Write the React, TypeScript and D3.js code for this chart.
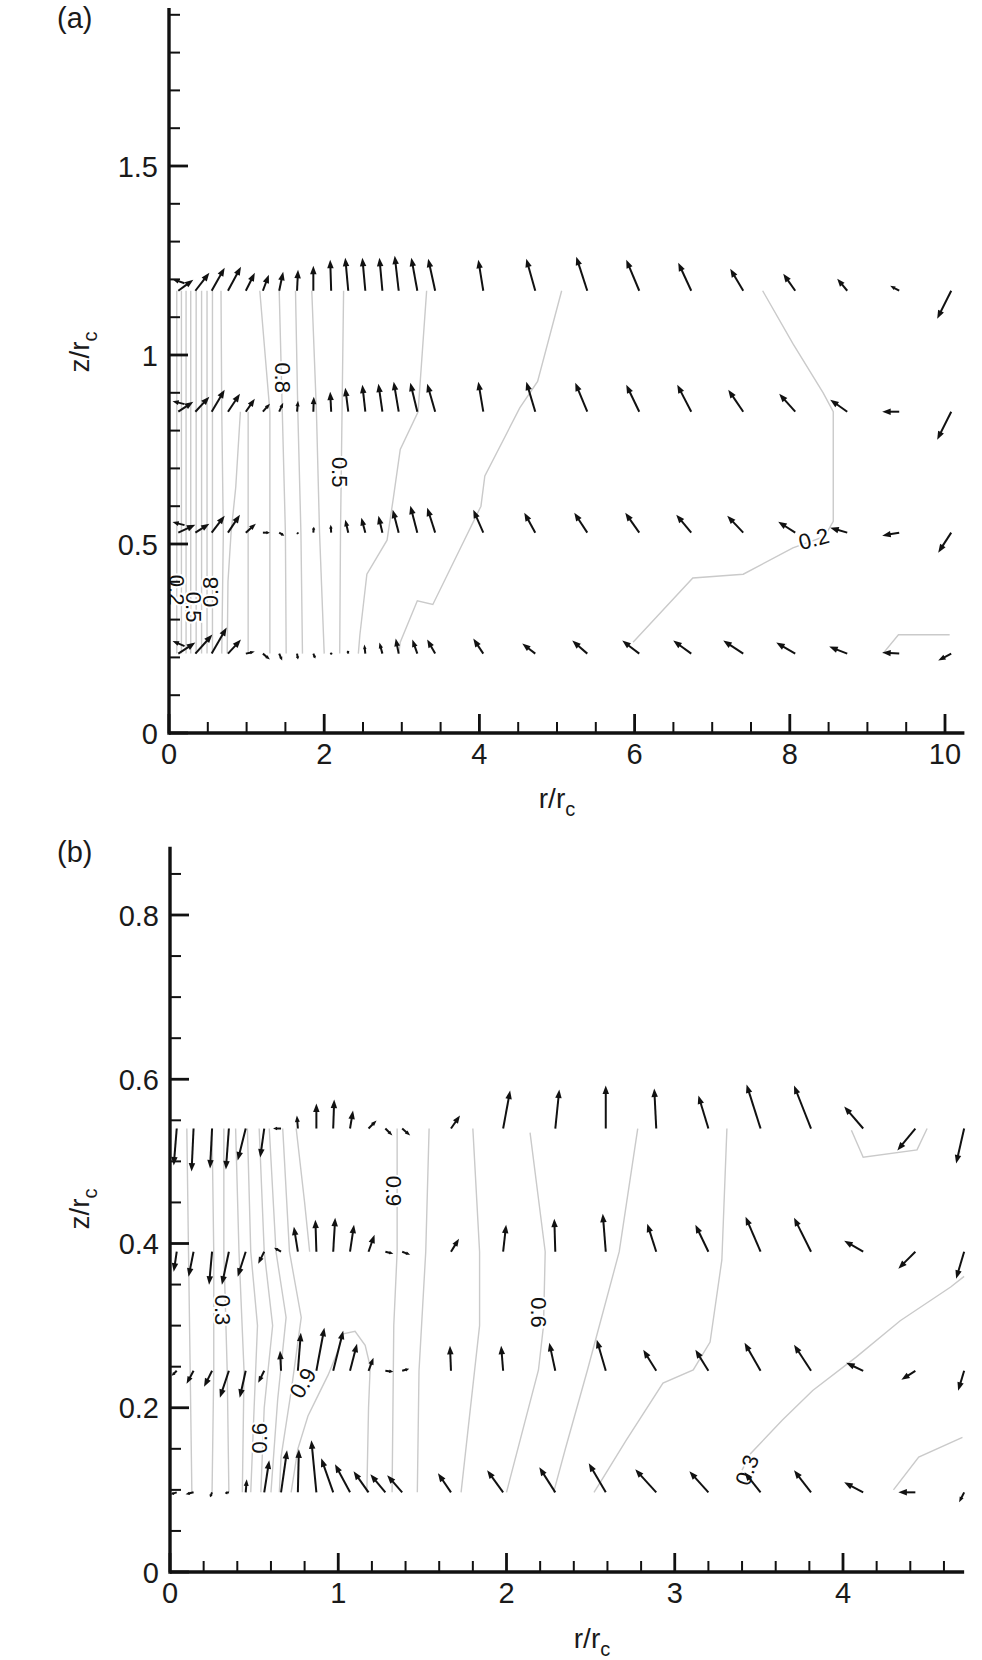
import React from "react";
import * as d3 from "d3";

const W = 982;
const H = 1660;
const FONT = "'Liberation Sans', Arial, Helvetica, sans-serif";

// ---------------- Panel (a) data ----------------
const A_COLS = [0.12, 0.34, 0.55, 0.76, 0.99, 1.21, 1.42, 1.65, 1.86, 2.09, 2.31, 2.53, 2.75, 2.96, 3.2, 3.43,
  4.05, 4.72, 5.39, 6.06, 6.73, 7.4, 8.07, 8.74, 9.41, 10.08];
const A_ROWS = [1.17, 0.85, 0.53, 0.21];
const A_U1 = [1.5, 1.4, 1.3, 1.3, 0.9, 0.6, 0.4, 0.1, 0, -0.1, -0.3, -0.3, -0.3, -0.4, -0.6, -0.7, -0.5, -0.9, -1.1, -1.3, -1.3, -1.3, -1.2, -1.0, -0.9, -1.4];
const A_W1 = [1.1, 1.8, 2.3, 2.4, 1.8, 1.6, 1.9, 2.1, 2.5, 3.1, 3.3, 3.3, 3.3, 3.5, 3.3, 3.2, 3.1, 3.2, 3.4, 3.1, 2.8, 2.2, 1.7, 1.2, 0.5, -2.8];
const A_U2 = [1.5, 1.4, 1.3, 1.2, 0.9, 0.7, 0.4, 0.1, 0.05, -0.1, -0.3, -0.3, -0.4, -0.5, -0.7, -0.8, -0.5, -0.9, -1.2, -1.3, -1.4, -1.5, -1.6, -1.7, -1.7, -1.4];
const A_W2 = [1.0, 1.5, 2.2, 1.8, 1.3, 0.8, 0.9, 1.1, 1.5, 2.0, 2.4, 2.7, 2.8, 3.0, 2.9, 2.8, 3.0, 3.0, 2.9, 2.7, 2.7, 2.2, 1.8, 1.2, 0.0, -2.8];
const A_U3 = [1.7, 1.4, 1.3, 1.2, 1.0, 0.7, 0.5, 0.1, 0.05, -0.05, -0.3, -0.4, -0.4, -0.6, -0.7, -0.8, -1.0, -1.1, -1.3, -1.4, -1.5, -1.6, -1.7, -1.7, -1.7, -1.3];
const A_W3 = [0.8, 0.9, 1.7, 1.8, 0.9, 0.0, -0.3, -0.1, 0.6, 0.8, 1.3, 1.5, 1.7, 2.3, 2.7, 2.5, 2.3, 2.0, 2.0, 2.0, 1.8, 1.7, 1.1, 0.5, -0.3, -2.0];
const A_U4 = [1.7, 1.7, 1.5, 1.3, 0.9, 0.7, 0.3, 0.1, 0.2, 0.0, -0.05, -0.1, -0.3, -0.3, -0.5, -0.8, -1.0, -1.3, -1.5, -1.7, -1.8, -2.0, -1.9, -1.8, -1.7, -1.3];
const A_W4 = [1.1, 1.9, 2.6, 1.4, 0.2, -0.6, -0.7, -0.6, -0.5, -0.1, 0.3, 0.9, 1.1, 1.5, 1.4, 1.4, 1.5, 1.0, 1.3, 1.3, 1.3, 1.3, 1.1, 0.7, 0.1, -0.7];
const A_EDGE_R = [0.2, 0.2, 0.2, 0.2];
const A_EDGE_Z = [1.19, 0.87, 0.55, 0.23];
const A_EDGE_U = [-1.2, -1.2, -1.2, -1.2];
const A_EDGE_W = [0.4, 0.3, 0.3, 0.5];

const A_CONTOURS: number[][][] = [
  [[0.10, 1.17], [0.10, 0.21]],
  [[0.16, 1.17], [0.16, 0.21]],
  [[0.22, 1.17], [0.22, 0.21]],
  [[0.28, 1.17], [0.28, 0.21]],
  [[0.35, 1.17], [0.35, 0.21]],
  [[0.42, 1.17], [0.42, 0.21]],
  [[0.49, 1.17], [0.49, 0.21]],
  [[0.56, 1.17], [0.56, 0.21]],
  [[0.67, 1.17], [0.68, 0.85], [0.70, 0.53], [0.68, 0.21]],
  [[0.92, 0.85], [0.86, 0.65], [0.80, 0.53], [0.76, 0.40], [0.75, 0.21]],
  [[1.02, 0.85], [1.02, 0.53], [1.02, 0.21]],
  [[1.17, 1.17], [1.30, 0.85], [1.30, 0.53], [1.30, 0.21]],
  [[1.42, 1.17], [1.46, 0.85], [1.50, 0.53], [1.51, 0.21]],
  [[1.63, 1.17], [1.66, 0.85], [1.70, 0.53], [1.72, 0.21]],
  [[1.84, 1.17], [1.90, 0.85], [1.94, 0.53], [2.00, 0.21]],
  [[2.25, 1.17], [2.23, 0.85], [2.21, 0.53], [2.20, 0.21]],
  [[3.32, 1.17], [3.21, 0.85], [2.98, 0.75], [2.89, 0.62], [2.81, 0.51], [2.55, 0.42], [2.46, 0.26], [2.44, 0.21]],
  [[5.06, 1.17], [4.75, 0.93], [4.52, 0.86], [4.07, 0.68], [4.02, 0.60], [3.4, 0.34], [3.2, 0.35], [2.98, 0.24], [2.96, 0.21]],
  [[7.65, 1.17], [8.04, 1.03], [8.43, 0.90], [8.56, 0.85], [8.56, 0.56], [8.45, 0.52], [8.04, 0.49], [7.4, 0.42], [6.75, 0.41], [5.98, 0.24]],
  [[9.2, 0.21], [9.4, 0.26], [10.06, 0.26]],
];
const A_LABEL_TEXT = ["0.8", "0.5", "0.2", "0.5", "0.8", "0.2"];
const A_LABEL_R = [1.46, 2.2, 0.1, 0.31, 0.53, 8.31];
const A_LABEL_Z = [0.94, 0.69, 0.378, 0.333, 0.373, 0.513];
const A_LABEL_ROT = [90, 90, 90, 90, -90, -15];

const A_XTICKS = [0, 2, 4, 6, 8, 10];
const A_YTICKS = [0, 0.5, 1, 1.5];
const A_YTICK_LABELS = ["0", "0.5", "1", "1.5"];

// ---------------- Panel (b) data ----------------
const B_COLS = [0.04, 0.14, 0.25, 0.35, 0.45, 0.56, 0.66, 0.76, 0.87, 0.97, 1.07, 1.18, 1.28, 1.38,
  1.67, 1.98, 2.29, 2.59, 2.89, 3.2, 3.51, 3.81, 4.12, 4.43, 4.72];
const B_ROWS = [0.54, 0.39, 0.245, 0.097];
const B_U1 = [-0.3, -0.2, -0.2, -0.3, -0.8, -0.4, -0.8, -0.1, 0, 0.1, 0.3, 0.8, 0.7, 0.8, 0.9, 0.7, 0.4, 0, -0.2, -1.0, -1.4, -1.7, -1.9, -1.8, -0.8];
const B_W1 = [-3.7, -4.3, -4.0, -4.1, -3.2, -2.9, 0, 1.3, 2.5, 2.9, 1.8, 0.8, -0.7, -0.7, 1.3, 3.8, 3.9, 4.3, 4.0, 3.3, 4.4, 4.3, 2.2, -2.2, -3.5];
const B_U2 = [-0.3, -0.5, -0.3, -0.7, -0.8, -0.6, -0.7, -0.4, -0.1, 0.2, 0.4, 0.6, 0.8, 0.8, 0.8, 0.3, -0.1, -0.3, -0.9, -1.3, -1.5, -1.7, -1.9, -1.7, -0.8];
const B_W2 = [-2.0, -2.5, -3.3, -3.3, -2.5, -1.2, 0.4, 2.5, 3.2, 3.4, 2.7, 1.7, -0.2, -0.3, 1.3, 2.7, 3.3, 3.8, 2.8, 2.7, 3.5, 3.4, 1.1, -1.7, -2.7];
const B_U3 = [-0.5, -0.7, -0.8, -0.9, -0.6, -0.6, -0.1, 0.3, 0.8, 1.0, 0.7, 0.5, 0.8, 0.7, -0.1, -0.2, -0.6, -0.9, -1.3, -1.3, -1.6, -1.7, -1.7, -1.4, -0.6];
const B_W3 = [-0.5, -1.3, -1.6, -2.7, -2.7, -1.2, 2.0, 3.8, 4.3, 4.0, 2.7, 1.3, -0.1, 0.2, 2.5, 2.5, 2.8, 3.1, 2.1, 2.1, 2.8, 2.6, 0.8, -0.9, -2.0];
const B_U4 = [-0.6, -0.8, -0.2, -0.4, 0.1, 0.5, 0.6, 0.1, -0.5, -1.2, -1.5, -1.5, -1.5, -1.5, -1.3, -1.6, -1.6, -1.7, -2.1, -1.9, -1.6, -1.7, -1.9, -1.7, -0.5];
const B_W4 = [-0.2, -0.2, -0.5, -0.1, 1.3, 3.2, 4.2, 4.3, 5.2, 3.4, 2.8, 2.1, 1.8, 1.7, 1.9, 2.2, 2.5, 2.9, 2.3, 2.1, 2.0, 2.2, 1.0, 0.0, -1.0];

const B_CONTOURS: number[][][] = [
  [[0.10, 0.54], [0.11, 0.39], [0.12, 0.245], [0.13, 0.097]],
  [[0.25, 0.54], [0.26, 0.39], [0.26, 0.245], [0.25, 0.097]],
  [[0.32, 0.54], [0.32, 0.39], [0.34, 0.245], [0.35, 0.097]],
  [[0.39, 0.54], [0.41, 0.39], [0.44, 0.245], [0.43, 0.097]],
  [[0.46, 0.54], [0.48, 0.39], [0.52, 0.30], [0.50, 0.20], [0.48, 0.097]],
  [[0.53, 0.54], [0.56, 0.39], [0.61, 0.30], [0.56, 0.20], [0.54, 0.097]],
  [[0.59, 0.54], [0.63, 0.39], [0.69, 0.31], [0.64, 0.21], [0.60, 0.097]],
  [[0.67, 0.54], [0.71, 0.39], [0.78, 0.31], [0.72, 0.22], [0.66, 0.14], [0.65, 0.097]],
  [[0.72, 0.097], [0.76, 0.15], [0.82, 0.19], [0.88, 0.215], [0.94, 0.24], [0.99, 0.265], [1.03, 0.29], [1.10, 0.293], [1.16, 0.276], [1.19, 0.25], [1.18, 0.2], [1.17, 0.097]],
  [[0.75, 0.54], [0.80, 0.45], [0.83, 0.39]],
  [[1.35, 0.54], [1.35, 0.39], [1.33, 0.30], [1.32, 0.097]],
  [[1.54, 0.54], [1.52, 0.39], [1.48, 0.245], [1.47, 0.097]],
  [[1.80, 0.54], [1.84, 0.39], [1.84, 0.30], [1.73, 0.097]],
  [[2.14, 0.535], [2.23, 0.39], [2.22, 0.30], [2.19, 0.246], [2.0, 0.097]],
  [[2.78, 0.54], [2.67, 0.39], [2.48, 0.245], [2.35, 0.15], [2.28, 0.097]],
  [[3.31, 0.54], [3.28, 0.38], [3.21, 0.28], [3.11, 0.246], [2.93, 0.23], [2.71, 0.16], [2.56, 0.11], [2.52, 0.097]],
  [[4.72, 0.36], [4.64, 0.347], [4.34, 0.306], [4.08, 0.262], [3.82, 0.221], [3.64, 0.185], [3.45, 0.144], [3.40, 0.124]],
  [[4.05, 0.538], [4.12, 0.505], [4.44, 0.514], [4.50, 0.54]],
  [[4.71, 0.164], [4.45, 0.14], [4.30, 0.10]],
];
const B_LABEL_TEXT = ["0.9", "0.3", "0.9", "0.6", "0.6", "0.3"];
const B_LABEL_R = [1.33, 0.31, 0.79, 0.53, 2.19, 3.43];
const B_LABEL_Z = [0.464, 0.319, 0.23, 0.163, 0.316, 0.124];
const B_LABEL_ROT = [90, 90, -60, -90, 90, -70];

const B_XTICKS = [0, 1, 2, 3, 4];
const B_YTICKS = [0, 0.2, 0.4, 0.6, 0.8];
const B_YTICK_LABELS = ["0", "0.2", "0.4", "0.6", "0.8"];

const VEC_PX = 10; // pixels per velocity unit

// ---------------- scales ----------------
const xA = d3.scaleLinear().domain([0, 10]).range([169, 945]);
const yA = d3.scaleLinear().domain([0, 1]).range([733, 355]);
const xB = d3.scaleLinear().domain([0, 4]).range([170, 843]);
const yB = d3.scaleLinear().domain([0, 0.8]).range([1572, 915]);

function Arrow({ x1, y1, x2, y2 }: { x1: number; y1: number; x2: number; y2: number }) {
  const dx = x2 - x1;
  const dy = y2 - y1;
  const L = Math.hypot(dx, dy);
  if (L < 1.2) {
    return <circle cx={x1} cy={y1} r={1.2} fill="#111" />;
  }
  const ux = dx / L;
  const uy = dy / L;
  const hl = Math.min(8.5, L * 0.5);
  const hw = Math.max(1.7, hl * 0.38);
  const bx = x2 - ux * hl;
  const by = y2 - uy * hl;
  return (
    <g>
      <line x1={x1} y1={y1} x2={bx + ux * 1} y2={by + uy * 1} stroke="#111" strokeWidth={2} />
      <polygon
        points={`${x2},${y2} ${bx - uy * hw},${by + ux * hw} ${bx + uy * hw},${by - ux * hw}`}
        fill="#111"
      />
    </g>
  );
}

function arrowsFor(cols: number[], rows: number[], us: number[][], ws: number[][], xs: any, ys: any, key: string) {
  const out: any[] = [];
  rows.forEach((z, i) => {
    cols.forEach((r, j) => {
      const x1 = xs(r);
      const y1 = ys(z);
      out.push(
        <Arrow key={`${key}-${i}-${j}`} x1={x1} y1={y1} x2={x1 + us[i][j] * VEC_PX} y2={y1 - ws[i][j] * VEC_PX} />
      );
    });
  });
  return out;
}

function Contours({ lines, xs, ys }: { lines: number[][][]; xs: any; ys: any }) {
  const gen = d3.line<number[]>().x((d) => xs(d[0])).y((d) => ys(d[1]));
  return (
    <g>
      {lines.map((ln, i) => (
        <path key={i} d={gen(ln) || ""} fill="none" stroke="#cacaca" strokeWidth={1.4} />
      ))}
    </g>
  );
}

function ContourLabels({ texts, rs, zs, rots, xs, ys }: any) {
  return (
    <g>
      {texts.map((t: string, i: number) => (
        <text
          key={i}
          transform={`translate(${xs(rs[i])},${ys(zs[i])}) rotate(${rots[i]})`}
          textAnchor="middle"
          dominantBaseline="central"
          fontFamily={FONT}
          fontSize={22}
          fill="#111"
          stroke="#fff"
          strokeWidth={4}
          paintOrder="stroke"
        >
          {t}
        </text>
      ))}
    </g>
  );
}

function Axes({
  xs, ys, xMax, yMax, xTicks, xMinor, yTicks, yLabels, yMinor, xLabelX, xLabelY, yLabelY, tag, tagY,
}: any) {
  const x0 = xs(0);
  const y0 = ys(0);
  const xEnd = xs(xMax);
  const yEnd = ys(yMax);
  return (
    <g fontFamily={FONT} fill="#1a1a1a">
      {xMinor.map((v: number, i: number) => (
        <line key={`xm${i}`} x1={xs(v)} x2={xs(v)} y1={y0} y2={y0 - 11} stroke="#111" strokeWidth={2} />
      ))}
      {yMinor.map((v: number, i: number) => (
        <line key={`ym${i}`} x1={x0} x2={x0 + 11} y1={ys(v)} y2={ys(v)} stroke="#111" strokeWidth={2} />
      ))}
      {xTicks.map((v: number, i: number) => (
        <line key={`xM${i}`} x1={xs(v)} x2={xs(v)} y1={y0} y2={y0 - 19} stroke="#111" strokeWidth={2.8} />
      ))}
      {yTicks.map((v: number, i: number) => (
        <line key={`yM${i}`} x1={x0} x2={x0 + 19} y1={ys(v)} y2={ys(v)} stroke="#111" strokeWidth={2.8} />
      ))}
      <line x1={x0} x2={xEnd} y1={y0} y2={y0} stroke="#111" strokeWidth={3.4} />
      <line x1={x0} x2={x0} y1={y0 + 1.7} y2={yEnd} stroke="#111" strokeWidth={3.4} />
      {xTicks.map((v: number, i: number) => (
        <text key={`xl${i}`} x={xs(v)} y={y0 + 31} textAnchor="middle" fontSize={29}>
          {String(v)}
        </text>
      ))}
      {yTicks.map((v: number, i: number) => (
        <text key={`yl${i}`} x={x0 - 11} y={ys(v) + 10.5} textAnchor="end" fontSize={29}>
          {yLabels[i]}
        </text>
      ))}
      <text x={xLabelX} y={xLabelY} textAnchor="middle" fontSize={28}>
        r/r
        <tspan fontSize={20} dy={8}>c</tspan>
      </text>
      <text transform={`translate(89,${yLabelY}) rotate(-90)`} textAnchor="middle" fontSize={28}>
        z/r
        <tspan fontSize={20} dy={8}>c</tspan>
      </text>
      <text x={57} y={tagY} fontSize={29}>
        {tag}
      </text>
    </g>
  );
}

export default function App() {
  const aMinorX = d3.range(0, 10.01, 0.5).filter((v) => Math.abs(v % 2) > 1e-6);
  const aMinorY = d3.range(0, 1.91, 0.1).filter((v) => Math.abs((v * 10) % 5) > 1e-6);
  const bMinorX = d3.range(0, 4.61, 0.2).filter((v) => Math.abs(v - Math.round(v)) > 1e-6);
  const bMinorY = d3.range(0, 0.851, 0.05).filter((v) => Math.abs(v / 0.2 - Math.round(v / 0.2)) > 1e-6);

  const aU = [A_U1, A_U2, A_U3, A_U4];
  const aW = [A_W1, A_W2, A_W3, A_W4];
  const bU = [B_U1, B_U2, B_U3, B_U4];
  const bW = [B_W1, B_W2, B_W3, B_W4];

  return (
    <svg
      width={W}
      height={H}
      viewBox={`0 0 ${W} ${H}`}
      style={{ position: "absolute", left: 0, top: 0, background: "#fff" }}
    >
      <rect x={0} y={0} width={W} height={H} fill="#fff" />
      {/* Panel (a) */}
      <Contours lines={A_CONTOURS} xs={xA} ys={yA} />
      <ContourLabels texts={A_LABEL_TEXT} rs={A_LABEL_R} zs={A_LABEL_Z} rots={A_LABEL_ROT} xs={xA} ys={yA} />
      {arrowsFor(A_COLS, A_ROWS, aU, aW, xA, yA, "a")}
      {A_EDGE_R.map((r, i) => {
        const x1 = xA(r);
        const y1 = yA(A_EDGE_Z[i]);
        return <Arrow key={`ae${i}`} x1={x1} y1={y1} x2={x1 + A_EDGE_U[i] * VEC_PX} y2={y1 - A_EDGE_W[i] * VEC_PX} />;
      })}
      <Axes
        xs={xA}
        ys={yA}
        xMax={10.25}
        yMax={1.918}
        xTicks={A_XTICKS}
        xMinor={aMinorX}
        yTicks={A_YTICKS}
        yLabels={A_YTICK_LABELS}
        yMinor={aMinorY}
        xLabelX={557}
        xLabelY={808}
        yLabelY={352}
        tag="(a)"
        tagY={28}
      />
      {/* Panel (b) */}
      <Contours lines={B_CONTOURS} xs={xB} ys={yB} />
      <ContourLabels texts={B_LABEL_TEXT} rs={B_LABEL_R} zs={B_LABEL_Z} rots={B_LABEL_ROT} xs={xB} ys={yB} />
      {arrowsFor(B_COLS, B_ROWS, bU, bW, xB, yB, "b")}
      <Axes
        xs={xB}
        ys={yB}
        xMax={4.72}
        yMax={0.883}
        xTicks={B_XTICKS}
        xMinor={bMinorX}
        yTicks={B_YTICKS}
        yLabels={B_YTICK_LABELS}
        yMinor={bMinorY}
        xLabelX={592}
        xLabelY={1648}
        yLabelY={1209}
        tag="(b)"
        tagY={862}
      />
    </svg>
  );
}
